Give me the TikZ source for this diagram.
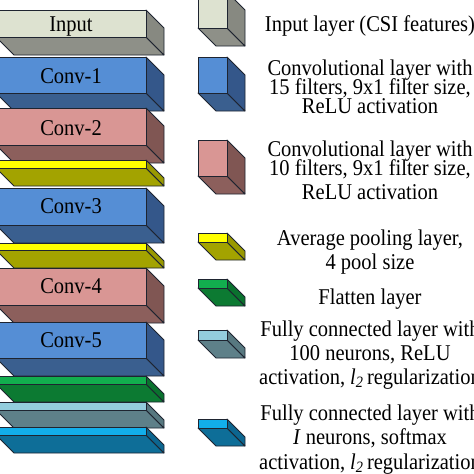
\documentclass[tikz,border=0pt]{standalone}
\usepackage{fontspec}
\setmainfont{Liberation Serif}
\definecolor{edgec}{HTML}{1E2430}
\definecolor{inF}{HTML}{DDE2D0}
\definecolor{inB}{HTML}{8E9088}
\definecolor{inS}{HTML}{878981}
\definecolor{cbF}{HTML}{558ED5}
\definecolor{cbB}{HTML}{3A5F8F}
\definecolor{cbS}{HTML}{34578A}
\definecolor{cpF}{HTML}{D99694}
\definecolor{cpB}{HTML}{8C5F5C}
\definecolor{cpS}{HTML}{805653}
\definecolor{plF}{HTML}{FFFF00}
\definecolor{plB}{HTML}{A3A300}
\definecolor{plS}{HTML}{999900}
\definecolor{flF}{HTML}{12AE4E}
\definecolor{flB}{HTML}{0C7A32}
\definecolor{flS}{HTML}{0A722E}
\definecolor{f1F}{HTML}{93CDDD}
\definecolor{f1B}{HTML}{5E8089}
\definecolor{f1S}{HTML}{577880}
\definecolor{f2F}{HTML}{12AEEA}
\definecolor{f2B}{HTML}{0E6E98}
\definecolor{f2S}{HTML}{0C6690}
\newcommand\tall[1]{\scalebox{1}[1.1]{#1}}
\tikzset{
  face/.style={draw=edgec, line width=0.8pt, line join=round},
  blklabel/.style={font=\fontsize{20.5}{20.5}\selectfont, text=black, inner sep=0pt, anchor=base},
  legtext/.style={font=\fontsize{20.5}{20.5}\selectfont, text=black, anchor=base, inner sep=0pt},
}
% #1 top, #2 bottom, #3 front, #4 bottom face, #5 side face
\newcommand\bigblk[5]{%
  \filldraw[face,fill=#4] (-4,#2) -- (146,#2) -- (164,{#2+18}) -- (14,{#2+18}) -- cycle;
  \filldraw[face,fill=#5] (146,#1) -- (164,{#1+18}) -- (164,{#2+18}) -- (146,#2) -- cycle;
  \filldraw[face,fill=#3] (-4,#1) rectangle (146,#2);
}
\newcommand\legicon[5]{%
  \filldraw[face,fill=#4] (198,#2) -- (227,#2) -- (245,{#2+18}) -- (216,{#2+18}) -- cycle;
  \filldraw[face,fill=#5] (227,#1) -- (245,{#1+18}) -- (245,{#2+18}) -- (227,#2) -- cycle;
  \filldraw[face,fill=#3] (198,#1) rectangle (227,#2);
}
\begin{document}
\begin{tikzpicture}[x=1pt,y=-1pt]
\useasboundingbox (0,0) rectangle (474,474);
\clip (0,0) rectangle (474,474);
\fill[white] (0,0) rectangle (474,474);
% stack of layers
\bigblk{10}{37}{inF}{inB}{inS}
\node[blklabel] (linput) at (71,31) {\tall{Input}};
\bigblk{57}{93}{cbF}{cbB}{cbS}
\node[blklabel] (lc1) at (71,83) {\tall{Conv-1}};
\bigblk{108}{145}{cpF}{cpB}{cpS}
\node[blklabel] (lc2) at (71,135) {\tall{Conv-2}};
\bigblk{160}{168}{plF}{plB}{plS}
\bigblk{188}{225}{cbF}{cbB}{cbS}
\node[blklabel] (lc3) at (71,213) {\tall{Conv-3}};
\bigblk{243}{250}{plF}{plB}{plS}
\bigblk{268}{305}{cpF}{cpB}{cpS}
\node[blklabel] (lc4) at (71,293) {\tall{Conv-4}};
\bigblk{322}{358}{cbF}{cbB}{cbS}
\node[blklabel] (lc5) at (71,347) {\tall{Conv-5}};
\bigblk{376}{384}{flF}{flB}{flS}
\bigblk{402}{410}{f1F}{f1B}{f1S}
\bigblk{427}{435}{f2F}{f2B}{f2S}
% legend icons
\legicon{-8}{28}{inF}{inB}{inS}
\legicon{57}{93}{cbF}{cbB}{cbS}
\legicon{140}{176}{cpF}{cpB}{cpS}
\legicon{233}{242}{plF}{plB}{plS}
\legicon{279}{288}{flF}{flB}{flS}
\legicon{330}{340}{f1F}{f1B}{f1S}
\legicon{419}{428}{f2F}{f2B}{f2S}
% legend texts
\node[legtext] (t1) at (370,31) {\tall{Input layer (CSI features)}};
\node[legtext] (t2a) at (370,75) {\tall{Convolutional layer with}};
\node[legtext] (t2b) at (370,94) {\tall{15 filters, 9x1 filter size,}};
\node[legtext] (t2c) at (370,113) {\tall{ReLU activation}};
\node[legtext] (t3a) at (370,156) {\tall{Convolutional layer with}};
\node[legtext] (t3b) at (370,175) {\tall{10 filters, 9x1 filter size,}};
\node[legtext] (t3c) at (370,199) {\tall{ReLU activation}};
\node[legtext] (t4a) at (370,245) {\tall{Average pooling layer,}};
\node[legtext] (t4b) at (370,269) {\tall{4 pool size}};
\node[legtext] (t5) at (370,304) {\tall{Flatten layer}};
\node[legtext] (t6a) at (370,336) {\tall{Fully connected layer with}};
\node[legtext] (t6b) at (370,360) {\tall{100 neurons, ReLU}};
\node[legtext] (t6c) at (370,384) {\tall{activation, \textit{l}\textsubscript{\textit{2}}\,regularization}};
\node[legtext] (t7a) at (370,420) {\tall{Fully connected layer with}};
\node[legtext] (t7b) at (370,444) {\tall{\textit{I} neurons, softmax}};
\node[legtext] (t7c) at (370,469) {\tall{activation, \textit{l}\textsubscript{\textit{2}}\,regularization}};
\end{tikzpicture}
\end{document}
